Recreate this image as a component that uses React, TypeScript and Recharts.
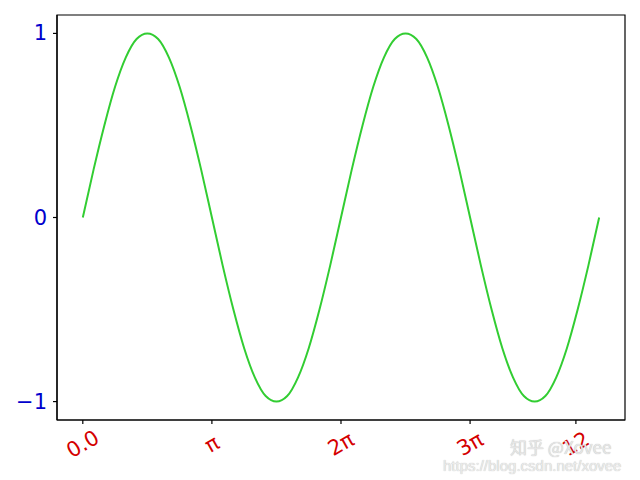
import { LineChart, Line, XAxis, YAxis, ReferenceArea } from "recharts";

const xs = [
  0, 0.262, 0.524, 0.785, 1.047, 1.309, 1.571, 1.833, 2.094, 2.356, 2.618, 2.88, 3.142,
  3.403, 3.665, 3.927, 4.189, 4.451, 4.712, 4.974, 5.236, 5.498, 5.76, 6.021, 6.283,
  6.545, 6.807, 7.069, 7.33, 7.592, 7.854, 8.116, 8.378, 8.639, 8.901, 9.163, 9.425,
  9.687, 9.948, 10.21, 10.472, 10.734, 10.996, 11.257, 11.519, 11.781, 12.043, 12.305, 12.566,
];
const ys = [
  0, 0.26, 0.5, 0.71, 0.87, 0.97, 1, 0.97, 0.87, 0.71, 0.5, 0.26, 0,
  -0.26, -0.5, -0.71, -0.87, -0.97, -1, -0.97, -0.87, -0.71, -0.5, -0.26, 0,
  0.26, 0.5, 0.71, 0.87, 0.97, 1, 0.97, 0.87, 0.71, 0.5, 0.26, 0,
  -0.26, -0.5, -0.71, -0.87, -0.97, -1, -0.97, -0.87, -0.71, -0.5, -0.26, 0,
];

const xTicks = [0, 3.1416, 6.2832, 9.4248, 12];
const xTickLabels = ["0.0", "π", "2π", "3π", "12"];
const yTicks = [-1, 0, 1];
const yTickLabels = ["−1", "0", "1"];

const X_DOMAIN: [number, number] = [-0.628, 13.195];
const Y_DOMAIN: [number, number] = [-1.1, 1.1];

const data = xs.map((x, i) => ({ x, y: ys[i] }));
const FONT = "DejaVu Sans";

function XTick({ x, y, payload }: any) {
  const i = xTicks.indexOf(payload.value);
  const cx = x;
  const cy = y + 16;
  return (
    <text
      x={cx}
      y={cy}
      transform={`rotate(-30, ${cx}, ${cy})`}
      textAnchor="middle"
      dominantBaseline="central"
      fill="#d40000"
      fontSize={21}
      fontFamily={FONT}
    >
      {xTickLabels[i] ?? payload.value}
    </text>
  );
}

function YTick({ x, y, payload }: any) {
  const i = yTicks.indexOf(payload.value);
  return (
    <text x={x} y={y} textAnchor="end" dominantBaseline="central" fill="#0000cd" fontSize={21} fontFamily={FONT}>
      {yTickLabels[i]}
    </text>
  );
}

export default function App() {
  return (
    <div style={{ width: 640, height: 480, background: "#fff", position: "relative" }}>
      <style>{`body{margin:0}`}</style>
      <LineChart width={640} height={480} data={data} margin={{ top: 15, right: 15, bottom: 0, left: 0 }}>
        <XAxis
          dataKey="x"
          type="number"
          domain={X_DOMAIN}
          ticks={xTicks}
          allowDataOverflow
          height={60}
          tickSize={4}
          tickMargin={4}
          tick={<XTick />}
          stroke="#000"
          strokeWidth={1.2}
          tickLine={{ stroke: "#000" }}
        />
        <YAxis
          type="number"
          domain={Y_DOMAIN}
          ticks={yTicks}
          allowDataOverflow
          width={57}
          tickSize={4}
          tickMargin={6}
          tick={<YTick />}
          stroke="#000"
          strokeWidth={1.2}
          tickLine={{ stroke: "#000" }}
        />
        <ReferenceArea
          x1={X_DOMAIN[0]}
          x2={X_DOMAIN[1]}
          y1={Y_DOMAIN[0]}
          y2={Y_DOMAIN[1]}
          fill="none"
          stroke="#000"
          strokeWidth={1.2}
        />
        <Line
          dataKey="y"
          type="monotone"
          stroke="#32cd32"
          strokeWidth={2}
          dot={false}
          isAnimationActive={false}
        />
      </LineChart>
      <div
        style={{
          position: "absolute",
          left: 510,
          top: 437,
          fontFamily: "Noto Sans CJK SC",
          fontSize: 17,
          lineHeight: "20px",
          color: "#e6e6e6",
          textShadow: "0 0 1px #b0b0b0",
          whiteSpace: "nowrap",
        }}
      >
        知乎 @Xovee
      </div>
      <div
        style={{
          position: "absolute",
          left: 443,
          top: 457,
          fontFamily: "Liberation Sans",
          fontSize: 15,
          lineHeight: "18px",
          color: "#ebebeb",
          textShadow: "0 0 1px #b0b0b0",
          whiteSpace: "nowrap",
        }}
      >
        https://blog.csdn.net/xovee
      </div>
    </div>
  );
}
